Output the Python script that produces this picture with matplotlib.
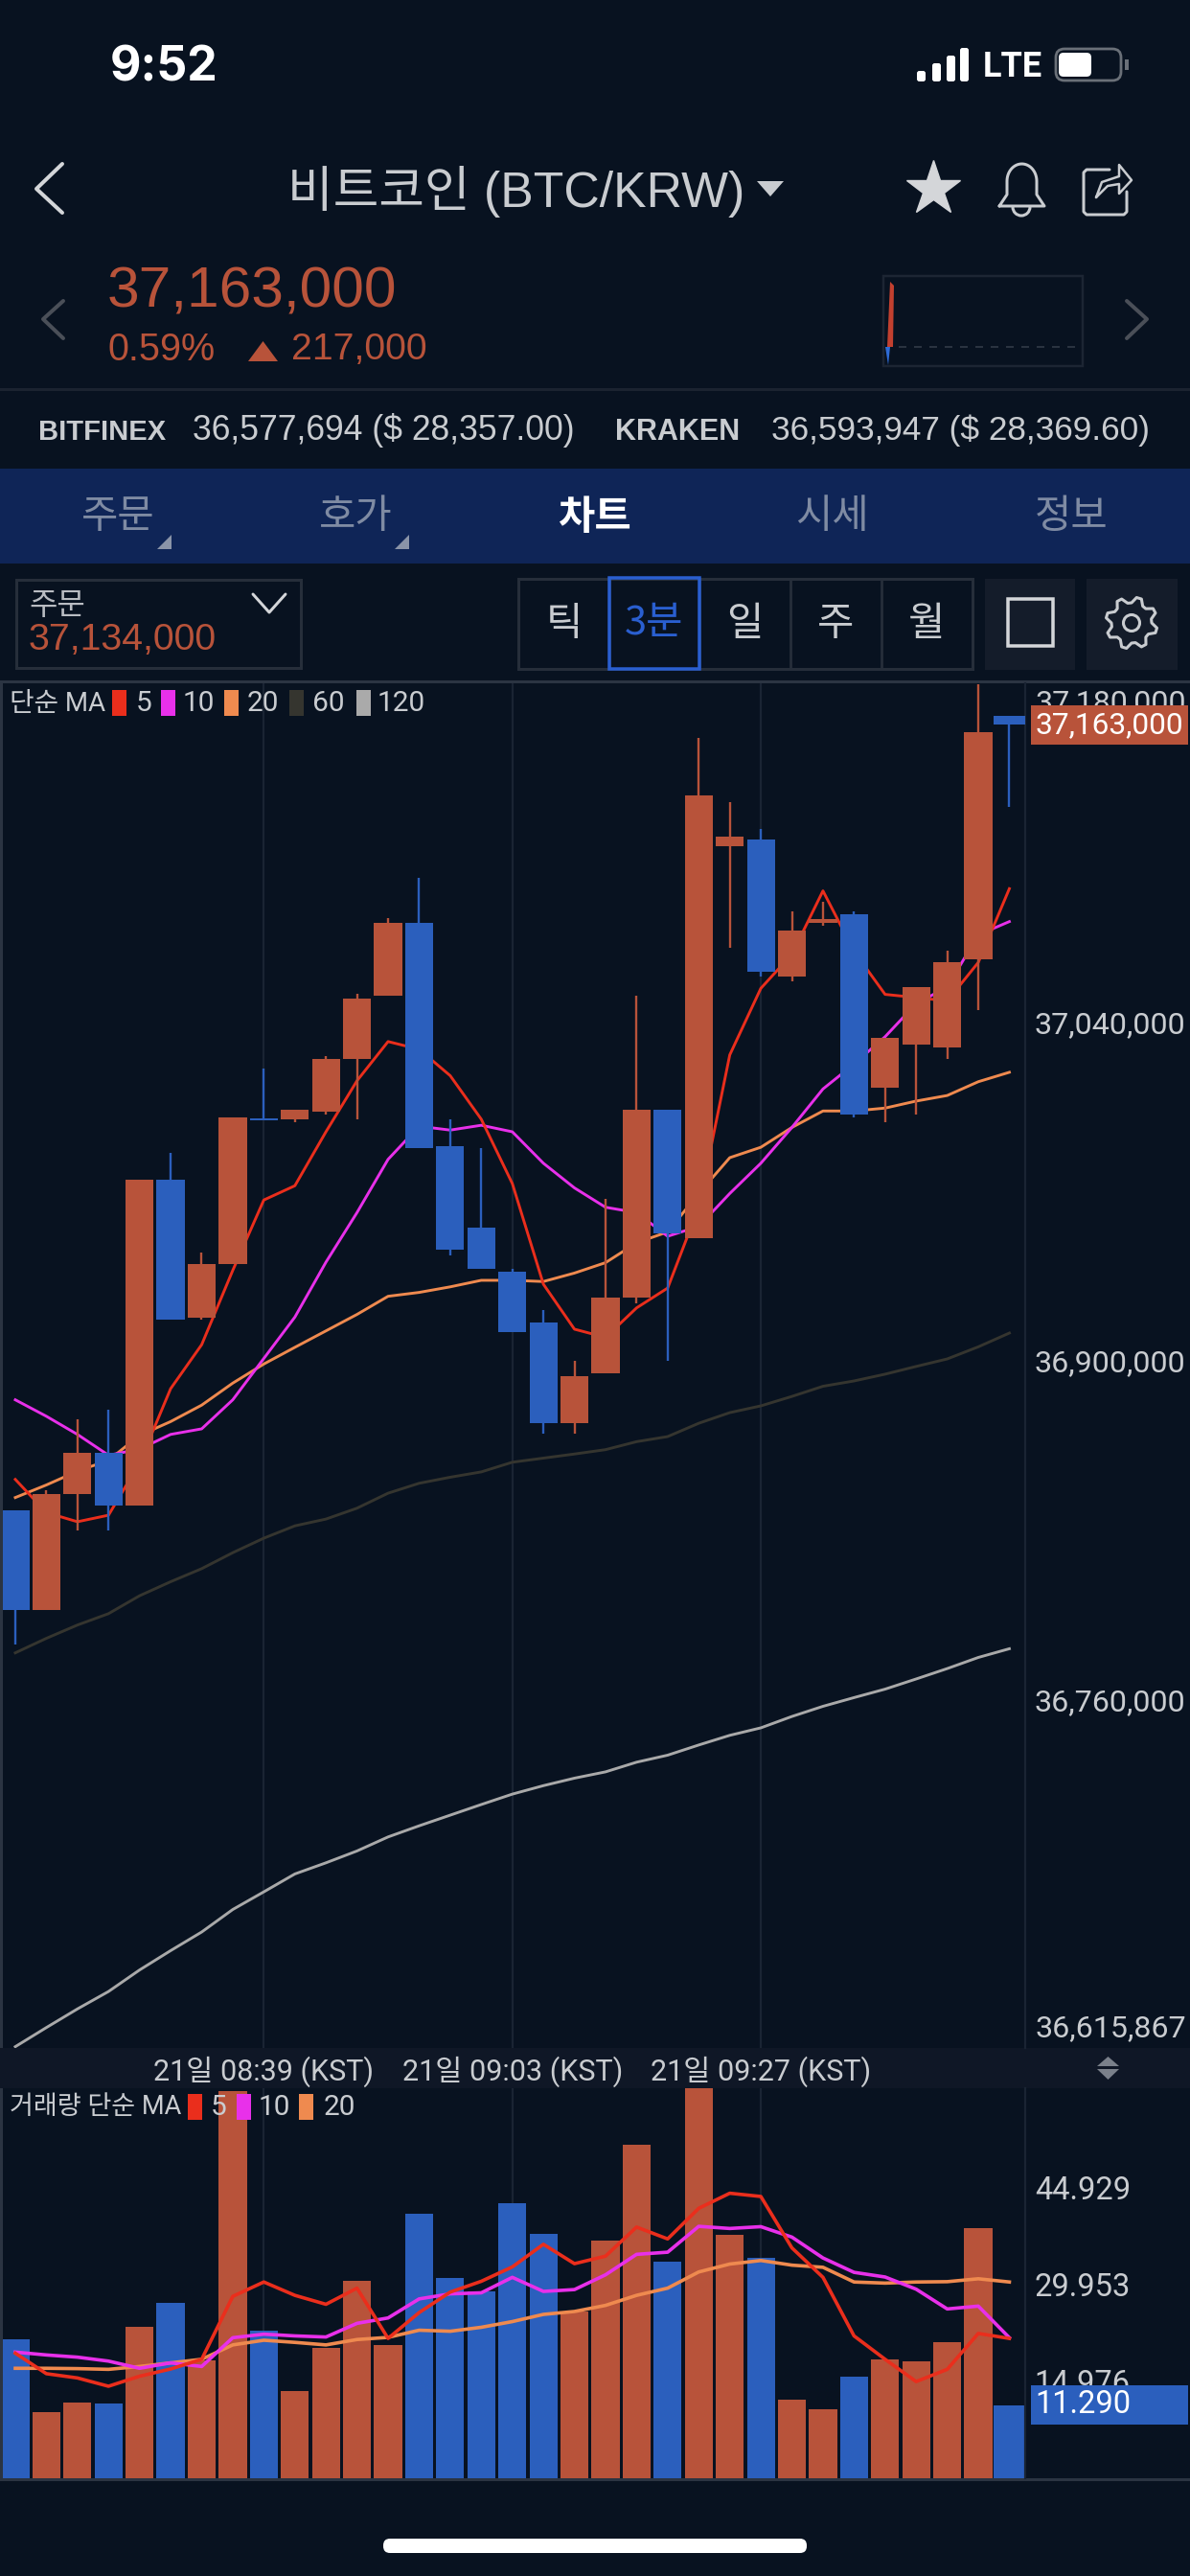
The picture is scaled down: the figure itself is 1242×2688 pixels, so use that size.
import numpy as np
import matplotlib
matplotlib.use('Agg')
import matplotlib.pyplot as plt
from matplotlib.patches import Rectangle, Polygon, FancyBboxPatch, Circle, Arc

plt.rcParams['font.family'] = ['Roboto', 'Noto Sans CJK KR']

# prices are in thousands of KRW, candle order is left to right
opens = [36838.1, 36797.0, 36844.7, 36861.8, 36840.0, 36974.8, 36917.7, 36940.0, 37000.0, 36999.8, 37002.8,
         37024.6, 37050.8, 37080.8, 36988.7, 36954.8, 36936.8, 36915.7, 36874.0, 36894.8, 36925.9, 37003.7,
         36950.7, 37112.6, 37115.6, 37058.7, 37080.8, 37084.6, 37012.8, 37030.7, 37029.6, 37065.8, 37166.5]
closes = [36797.0, 36844.7, 36861.8, 36840.0, 36974.8, 36916.8, 36940.0, 37000.7, 36999.3, 37003.7, 37024.6,
          37049.6, 37080.8, 36987.8, 36945.9, 36938.0, 36911.8, 36874.0, 36893.6, 36925.9, 37003.7, 36952.8,
          37133.8, 37116.7, 37060.8, 37077.6, 37082.6, 37001.6, 37033.5, 37054.6, 37064.6, 37159.7, 37162.9]
highs = [36838.1, 36846.3, 36875.9, 36879.8, 36974.8, 36985.9, 36944.8, 37000.7, 37020.7, 37003.7, 37026.0,
         37051.7, 37082.8, 37099.6, 36999.8, 36987.8, 36938.0, 36920.9, 36900.0, 36966.8, 37050.8, 37003.7,
         37157.6, 37130.8, 37119.7, 37085.8, 37089.6, 37085.8, 37033.5, 37054.6, 37069.6, 37179.7, 37166.5]
lows = [36782.6, 36797.0, 36829.9, 36829.9, 36840.0, 36916.8, 36916.8, 36940.0, 36999.3, 36998.5, 37001.9,
        36999.8, 37050.8, 36987.8, 36943.6, 36938.0, 36911.8, 36869.7, 36869.7, 36894.8, 36923.6, 36900.0,
        36950.7, 37070.5, 37058.7, 37056.9, 37079.9, 37000.7, 36998.7, 37001.6, 37024.6, 37044.8, 37128.8]

ma5 = [36850.9, 36837.2, 36833.4, 36836.1, 36857.7, 36888.4, 36906.6, 36937.3, 36966.4, 36972.3, 36994.6,
       37015.7, 37031.9, 37028.7, 37017.8, 36999.8, 36973.2, 36931.6, 36913.0, 36909.6, 36921.8, 36930.0,
       36963.4, 37026.4, 37053.9, 37068.0, 37094.2, 37069.2, 37051.4, 37050.1, 37048.7, 37064.6, 37095.1]
ma10 = [36883.8, 36877.0, 36869.5, 36860.9, 36863.4, 36869.5, 36871.8, 36883.8, 36900.9, 36918.0, 36940.7,
        36961.2, 36983.2, 36996.9, 36995.3, 36997.3, 36994.6, 36981.6, 36971.4, 36963.4, 36961.2, 36951.4,
        36955.5, 36969.1, 36981.6, 36996.4, 37012.3, 37022.6, 37033.9, 37047.6, 37054.4, 37076.0, 37081.5]
ma20 = [36843.4, 36848.6, 36854.3, 36858.8, 36869.1, 36874.8, 36881.6, 36890.7, 36898.6, 36905.5, 36912.3,
        36919.1, 36926.6, 36928.2, 36930.5, 36933.2, 36933.2, 36932.7, 36936.2, 36940.5, 36948.7, 36953.2,
        36969.1, 36983.9, 36988.2, 36996.4, 37003.2, 37003.2, 37004.4, 37007.3, 37009.6, 37015.3, 37019.2]
ma60 = [36779.2, 36785.2, 36790.7, 36795.4, 36802.8, 36808.6, 36814.0, 36820.6, 36826.6, 36831.7, 36834.5,
        36839.0, 36845.2, 36849.3, 36851.8, 36854.0, 36858.0, 36859.7, 36861.4, 36863.2, 36866.5, 36868.6,
        36874.1, 36878.5, 36881.3, 36885.2, 36889.4, 36891.6, 36894.4, 36897.6, 36900.7, 36905.7, 36911.4]
ma120 = [36616.4, 36624.3, 36632.0, 36639.2, 36648.1, 36656.1, 36663.8, 36673.1, 36680.4, 36687.8, 36692.4,
         36697.3, 36703.1, 36707.7, 36712.1, 36716.5, 36720.8, 36724.3, 36727.4, 36730.0, 36734.0, 36736.9,
         36741.1, 36745.1, 36748.2, 36752.9, 36757.1, 36760.7, 36764.2, 36768.4, 36772.7, 36777.3, 36780.9]

volume = [21.5, 10.2, 11.7, 11.5, 23.3, 27.1, 18.2, 59.8, 22.8, 13.5, 20.1, 30.4, 20.6, 40.8, 30.9, 28.9, 42.5,
          37.7, 25.7, 36.7, 51.5, 33.5, 62.0, 37.5, 34.0, 12.2, 10.7, 15.7, 18.4, 18.1, 21.0, 38.6, 11.29]
vol_ma5 = [19.30, 16.14, 15.48, 14.20, 15.75, 16.86, 18.36, 28.07, 30.29, 28.23, 26.85, 29.34, 21.58, 25.57,
           28.73, 30.40, 32.62, 36.11, 33.12, 34.28, 38.77, 36.94, 41.66, 43.99, 43.49, 35.56, 31.01, 21.97,
           18.36, 14.92, 16.81, 22.35, 21.58]
vol_ma10 = [19.47, 19.03, 18.69, 18.08, 16.97, 17.81, 17.25, 21.69, 22.24, 21.97, 21.80, 23.91, 24.74, 27.68,
            28.46, 28.62, 31.01, 28.84, 29.12, 31.40, 34.56, 34.89, 38.88, 38.55, 38.83, 37.22, 34.00, 31.78,
            31.06, 29.18, 26.13, 26.57, 21.69]
vol_ma20 = [16.97, 16.97, 16.92, 16.81, 17.25, 17.81, 18.36, 20.58, 21.30, 20.97, 20.58, 21.41, 21.74, 22.85,
            22.69, 23.30, 24.18, 25.29, 25.74, 26.68, 28.23, 29.34, 31.84, 33.06, 33.61, 32.89, 32.56, 30.29,
            30.12, 30.29, 30.34, 30.79, 30.29]

price_ticks = [37040, 36900, 36760]
price_tick_labels = ['37,040,000', '36,900,000', '36,760,000']
vol_ticks = [44.929, 29.953, 14.976]
vol_tick_labels = ['44.929', '29.953', '14.976']
time_ticks = [8, 16, 24]
time_labels = ['21일 08:39 (KST)', '21일 09:03 (KST)', '21일 09:27 (KST)']
tabs = ['주문', '호가', '차트', '시세', '정보']
intervals = ['틱', '3분', '일', '주', '월']

BG = '#081220'
UP = '#b8533a'
DOWN = '#2b5fbd'
GRID = '#1a2433'
EDGE = '#2b3442'
TEXT = '#c9ccd0'
ACTIVE_BLUE = '#2a5fd0'
W, H = 1242, 2688


def px_axes(fig, left, top, right, bottom, **kw):
    return fig.add_axes([left / W, 1 - bottom / H, (right - left) / W, (bottom - top) / H], **kw)


fig = plt.figure(figsize=(W / 100, H / 100), dpi=100, facecolor=BG)

# screen chrome, in pixel coordinates
ui = px_axes(fig, 0, 0, W, H, zorder=1)
ui.set_xlim(0, W)
ui.set_ylim(H, 0)
ui.axis('off')


def line(xs, ys, color=TEXT, lw=3.0, target=ui, **kw):
    target.plot(xs, ys, color=color, lw=lw * 0.72, solid_capstyle='round', solid_joinstyle='round', **kw)


def rect(x0, y0, x1, y1, fc='none', ec='none', lw=0.0, target=ui, **kw):
    target.add_patch(Rectangle((x0, y0), x1 - x0, y1 - y0, facecolor=fc, edgecolor=ec, linewidth=lw * 0.72, **kw))


def tri(points, color, target=ui):
    target.add_patch(Polygon(points, closed=True, facecolor=color, edgecolor='none'))


LIB = ['Liberation Sans', 'Noto Sans CJK KR']

# status bar
ui.text(171, 71, '9:52', color='white', fontsize=36, fontweight='bold', family='Inter', ha='center', va='center')
for x, top_y in zip([957, 973, 988, 1002], [74, 66, 58, 50]):
    ui.add_patch(FancyBboxPatch((x, top_y), 9, 85 - top_y, boxstyle='round,pad=0,rounding_size=2.5', fc='white', ec='none'))
ui.text(1057, 70, 'LTE', color='white', fontsize=26, fontweight='bold', family='Roboto', ha='center', va='center')
ui.add_patch(FancyBboxPatch((1102, 51), 68, 33, boxstyle='round,pad=0,rounding_size=9', fc='none', ec='#6a7078', lw=2))
ui.add_patch(FancyBboxPatch((1105, 55), 34, 25, boxstyle='round,pad=0,rounding_size=5', fc='white', ec='none'))
rect(1174, 62, 1178, 73, fc='#6a7078')

# header
line([65, 38, 65], [171, 197, 222], color='#d4d6d9', lw=4)
ui.text(539, 200, '비트코인 (BTC/KRW)', color=TEXT, fontsize=37.3, family=LIB, ha='center', va='center')
tri([(790, 189), (818, 189), (804, 205)], TEXT)
ui.plot(974, 197, marker='*', ms=43, color='#d4d6d9', mec='#d4d6d9', mew=1)

# bell
bell_t = np.linspace(np.pi, 0, 30)
bell_x = np.r_[1043, 1051, 1051, 1066.5 + 15.5 * np.cos(bell_t), 1082, 1090, 1043]
bell_y = np.r_[215, 203, 189, 189 - 18 * np.sin(bell_t), 203, 215, 215]
line(bell_x, bell_y, color='#c9ccd0', lw=3)
ui.add_patch(Arc((1066, 216), 18, 18, theta1=0, theta2=180, color='#c9ccd0', lw=2.2))

# share
line([1158, 1134, 1131, 1131, 1134, 1173, 1176, 1176], [177, 177, 180, 221, 224, 224, 221, 200], color='#c9ccd0', lw=3)
line([1144, 1150, 1168, 1168, 1181, 1168, 1168, 1156, 1144],
     [206, 190, 184, 172, 188, 202, 192, 194, 206], color='#c9ccd0', lw=2.5)

# price row
ui.text(112, 305, '37,163,000', color=UP, fontsize=43.5, family='Liberation Sans', ha='left', va='center')
ui.text(112, 365, '0.59%', color=UP, fontsize=28.5, family='Liberation Sans', ha='left', va='center')
tri([(259, 377), (290, 377), (274.5, 356)], UP)
ui.text(304, 365, '217,000', color=UP, fontsize=28.3, family='Liberation Sans', ha='left', va='center')
line([66, 45, 66], [314, 333, 353], color='#4a4f58', lw=4)
line([1176, 1197, 1176], [314, 333, 353], color='#4a4f58', lw=4)

# mini chart box
rect(922, 288, 1130, 382, ec='#1c2533', lw=2.5)
line([938, 1125], [362, 362], color='#2a3340', lw=2, ls=(0, (4, 4)))
tri([(929, 294), (933, 298), (932, 362), (926, 362)], '#c2402f')
tri([(924, 362), (929, 362), (927, 381)], '#2e6bd6')

# exchange strip
rect(0, 405, W, 408, fc='#1b2330')
ui.text(40, 451, 'BITFINEX', color=TEXT, fontsize=21, fontweight='bold', family='Liberation Sans', ha='left', va='center')
ui.text(201, 449, '36,577,694 ($ 28,357.00)', color=TEXT, fontsize=25.6, family='Liberation Sans', ha='left', va='center')
ui.text(642, 451, 'KRAKEN', color=TEXT, fontsize=22, fontweight='bold', family='Liberation Sans', ha='left', va='center')
ui.text(805, 449, '36,593,947 ($ 28,369.60)', color=TEXT, fontsize=25.4, family='Liberation Sans', ha='left', va='center')

# tab bar
rect(0, 489, W, 588, fc='#0f2557')
for tab_x, tab, active in zip([123, 371, 620, 869, 1118], tabs, [0, 0, 1, 0, 0]):
    ui.text(tab_x, 540, tab, color='white' if active else '#7f8ba3', fontsize=30,
            fontweight='bold' if active else 'normal', family='Noto Sans CJK KR', ha='center', va='center')
tri([(164, 573), (179, 573), (179, 558)], '#8a94a8')
tri([(412, 573), (427, 573), (427, 558)], '#8a94a8')

# order box and interval buttons
rect(17, 605, 314, 697, ec='#262e3a', lw=3)
ui.text(30, 632, '주문', color='#b9bcc2', fontsize=23, family='Noto Sans CJK KR', ha='left', va='center')
ui.text(30, 668, '37,134,000', color=UP, fontsize=28.3, family='Liberation Sans', ha='left', va='center')
line([264, 281, 298], [620, 639, 620], color='#d4d6d9', lw=3)

cell_edges = [541, 636, 730, 825, 920, 1015]
rect(541, 604, 1015, 698, ec='#262e3a', lw=3)
for edge in cell_edges[1:-1]:
    ui.plot([edge, edge], [604, 698], color='#262e3a', lw=2)
for i, label in enumerate(intervals):
    on = i == 1
    ui.text((cell_edges[i] + cell_edges[i + 1]) / 2, 651, label, color=ACTIVE_BLUE if on else TEXT,
            fontsize=30, family='Noto Sans CJK KR', ha='center', va='center')
rect(636, 603, 730, 698, ec=ACTIVE_BLUE, lw=3.5, zorder=4)

rect(1028, 604, 1122, 699, fc='#141c2a')
rect(1052, 625, 1099, 674, ec='#d4d6d9', lw=3.5)
rect(1134, 604, 1229, 699, fc='#141c2a')
gear_a = np.linspace(0, 2 * np.pi, 8 * 4, endpoint=False) + np.pi / 8 - np.pi / 16
gear_r = np.tile([27, 27, 21, 21], 8)
ui.add_patch(Polygon(np.c_[1181 + gear_r * np.cos(gear_a), 650 + gear_r * np.sin(gear_a)], closed=True,
                     fc='none', ec='#c9ccd0', lw=2.2, joinstyle='round'))
ui.add_patch(Circle((1181, 650), 8.5, fc='none', ec='#c9ccd0', lw=2.2))

# frame of the chart area
rect(0, 710, W, 713, fc=EDGE)
rect(0, 713, 3, 2589, fc=EDGE)
rect(0, 2137, W, 2179, fc='#0f1726')
rect(0, 2586, W, 2589, fc=EDGE)
tri([(1156.5, 2146), (1168, 2156), (1145, 2156)], '#7a808a')
tri([(1145, 2159), (1168, 2159), (1156.5, 2170)], '#7a808a')

# home indicator
ui.add_patch(FancyBboxPatch((400, 2649), 442, 15, boxstyle='round,pad=0,rounding_size=7', fc='white', ec='none'))

idx = np.arange(len(opens))
colors = [UP if c >= o else DOWN for o, c in zip(opens, closes)]
xlim = (-0.40, 32.51)
# the live candle on the right is drawn a bit wider than the rest
widths = [0.90] * (len(opens) - 1) + [1.0]

# candles
ax = px_axes(fig, 3, 713, 1070, 2137, zorder=2, facecolor='none')
ax.set_xlim(*xlim)
ax.set_ylim(36615.867, 37180.0)
for ser, col in [(ma120, '#a9a9a9'), (ma60, '#35352f'), (ma20, '#ef8a4f'), (ma10, '#e830ea'), (ma5, '#ea2e1c')]:
    ax.plot(idx, ser, color=col, lw=2.1, zorder=2, solid_joinstyle='round')
ax.vlines(idx, lows, highs, colors=colors, lw=1.7, zorder=3)
ax.bar(idx, np.abs(np.array(closes) - np.array(opens)), bottom=np.minimum(opens, closes), width=widths,
       color=colors, zorder=4)
ax.set_xticks(time_ticks)
ax.set_xticklabels(time_labels)
ax.set_yticks(price_ticks)
ax.set_yticklabels(price_tick_labels)
ax.yaxis.tick_right()
ax.tick_params(axis='y', length=0, pad=7, labelsize=23.2, labelcolor=TEXT)
ax.tick_params(axis='x', length=0, pad=6, labelsize=22, labelcolor=TEXT)
ax.grid(axis='x', color=GRID, lw=1.6, zorder=1)
for name, spine in ax.spines.items():
    spine.set_visible(name == 'right')
    spine.set_color(GRID)
    spine.set_linewidth(1.6)
# the two edge labels sit inside the pane
ax.annotate('37,180,000', xy=(1, 37180.0), xycoords=ax.get_yaxis_transform(), xytext=(10, -21),
            textcoords='offset pixels', color=TEXT, fontsize=23.2, ha='left', va='center', annotation_clip=False)
ax.annotate('36,615,867', xy=(1, 36615.867), xycoords=ax.get_yaxis_transform(), xytext=(10, 20),
            textcoords='offset pixels', color=TEXT, fontsize=23.2, ha='left', va='center', annotation_clip=False)

# volume
ax_vol = px_axes(fig, 3, 2179, 1070, 2586, zorder=2, facecolor='none')
ax_vol.set_xlim(*xlim)
ax_vol.set_ylim(0, 60.2)
ax_vol.bar(idx, volume, width=widths, color=colors, zorder=2)
for ser, col in [(vol_ma20, '#ef8a4f'), (vol_ma10, '#e830ea'), (vol_ma5, '#ea2e1c')]:
    ax_vol.plot(idx, ser, color=col, lw=2.6, zorder=3, solid_joinstyle='round')
ax_vol.set_xticks(time_ticks)
ax_vol.set_xticklabels([])
ax_vol.set_yticks(vol_ticks)
ax_vol.set_yticklabels(vol_tick_labels)
ax_vol.yaxis.tick_right()
ax_vol.tick_params(axis='y', length=0, pad=7, labelsize=23.5, labelcolor=TEXT)
ax_vol.tick_params(axis='x', length=0)
ax_vol.grid(axis='x', color=GRID, lw=1.6, zorder=1)
for name, spine in ax_vol.spines.items():
    spine.set_visible(name == 'right')
    spine.set_color(GRID)
    spine.set_linewidth(1.6)

# overlay: value tags and legends
top = px_axes(fig, 0, 0, W, H, zorder=3, facecolor='none')
top.set_xlim(0, W)
top.set_ylim(H, 0)
top.axis('off')

rect(1076, 736, 1240, 777, fc=UP, target=top)
top.text(1158, 757, '37,163,000', color='white', fontsize=22.8, ha='center', va='center')
rect(1076, 2489, 1240, 2530, fc=DOWN, target=top)
top.text(1080, 2509, '11.290', color='white', fontsize=23.5, ha='left', va='center')

top.text(10, 734, '단순 MA', color=TEXT, fontsize=20, ha='left', va='center')
for x0, col, x_text, label in [(117, '#ea2e1c', 150, '5'), (168, '#e830ea', 207, '10'), (234, '#ef8a4f', 274, '20'),
                               (302, '#35352f', 343, '60'), (372, '#aaaaaa', 419, '120')]:
    rect(x0, 720, x0 + 15, 747, fc=col, target=top)
    top.text(x_text, 734, label, color=TEXT, fontsize=21.5, ha='center', va='center')

top.text(10, 2199, '거래량 단순 MA', color=TEXT, fontsize=19.5, ha='left', va='center')
for x0, col, x_text, label in [(196, '#ea2e1c', 228, '5'), (247, '#e830ea', 286, '10'), (312, '#ef8a4f', 354, '20')]:
    rect(x0, 2185, x0 + 15, 2212, fc=col, target=top)
    top.text(x_text, 2199, label, color=TEXT, fontsize=21.5, ha='center', va='center')

fig.savefig('out.png', dpi=100, facecolor=BG)
